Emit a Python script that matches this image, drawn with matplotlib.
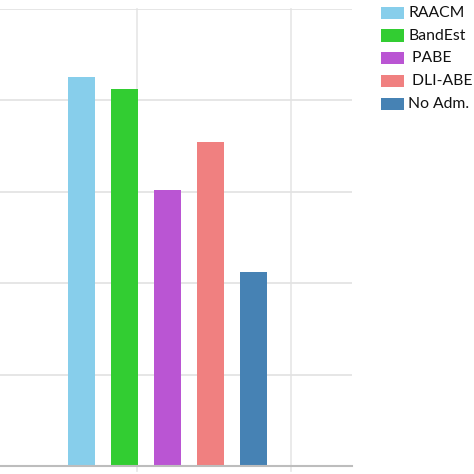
import matplotlib
matplotlib.use("Agg")
import matplotlib.pyplot as plt
from matplotlib.patches import Rectangle

categories = ["RAACM", "BandEst", "PABE", "DLI-ABE", "No Adm."]
legend_labels = ["RAACM", "BandEst", " PABE", " DLI-ABE", "No Adm."]
values = [4.25, 4.12, 3.02, 3.54, 2.12]
colors = ["#87CEEB", "#32CD32", "#BA55D3", "#F08080", "#4682B4"]

W = H = 474
fig = plt.figure(figsize=(W / 100, H / 100), dpi=100)
ax = fig.add_axes([0, (474 - 466) / H, 352 / W, (466 - 8.5) / H])

x = list(range(len(categories)))
ax.bar(x, values, width=0.63, color=colors, zorder=3)

ax.set_ylim(0, 5)
ax.set_xlim(-1.9, 6.286)
ax.set_yticks([0, 1, 2, 3, 4, 5])
ax.set_xticks([])
ax.tick_params(left=False, labelleft=False)
ax.grid(axis="y", color="#e2e2e2", linewidth=1.2, zorder=0)
for xv in [1.286, 4.867]:
    ax.axvline(xv, ymin=-0.01, ymax=1, color="#e6e6e6", linewidth=1.2, zorder=0, clip_on=False)
for s in ["top", "right", "left"]:
    ax.spines[s].set_visible(False)
ax.spines["bottom"].set_color("#bdbdbd")
ax.spines["bottom"].set_linewidth(1.5)
ax.spines["bottom"].set_zorder(4)

# manual legend
row_y = [13.3, 35.5, 58.3, 81, 104]
for lab, col, yc in zip(legend_labels, colors, row_y):
    fig.patches.append(Rectangle((381 / W, 1 - (yc + 6) / H), 23 / W, 12 / H,
                                 transform=fig.transFigure, facecolor=col,
                                 edgecolor="none"))
    fig.text(408 / W, 1 - yc / H, lab, fontsize=11.3, family="Lato",
             va="center", ha="left", color="#111111")

fig.savefig("out.png", dpi=100)
